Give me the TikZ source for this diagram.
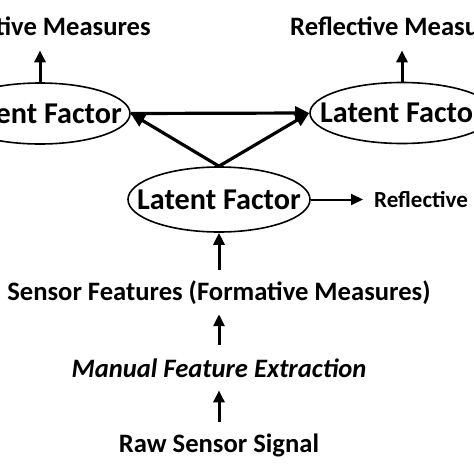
\documentclass[tikz,border=0pt]{standalone}
\usepackage{fontspec}
\setmainfont{Carlito}
\usetikzlibrary{arrows.meta,shapes.geometric}
\tikzset{
  lat/.style={draw,ellipse,line width=1.6pt,inner xsep=-20pt,inner ysep=0pt,font=\fontsize{30.2}{34}\selectfont\bfseries},
  lbl/.style={inner sep=0pt,font=\fontsize{26.6}{30}\selectfont\bfseries},
  small/.style={inner sep=0pt,font=\fontsize{23}{26}\selectfont\bfseries},
  big/.style={line width=3.2pt,-{Triangle[length=14pt,width=13pt]}},
  up/.style={line width=3pt,-{Triangle[length=12pt,width=11pt]}},
  thin/.style={line width=2pt,-{Triangle[length=12pt,width=11pt]}}
}
\begin{document}
\begin{tikzpicture}[x=1pt,y=-1pt]
\useasboundingbox (0,0) rectangle (474,474);
\clip (0,0) rectangle (474,474);
\node[lat,minimum width=180pt,minimum height=61pt] (L) at (40,113.5) {Latent Factor};
\node[lat,minimum width=184pt,minimum height=61pt] (R) at (402,113) {Latent Factor};
\node[lat,minimum width=182pt,minimum height=65pt] (M) at (219,199.5) {Latent Factor};
\node[lbl,anchor=base east] (LT) at (151,35) {Reflective Measures};
\node[lbl,anchor=base west] (RT) at (290,35) {Reflective Measures};
\node[small,anchor=base west] (MR) at (374,207) {Reflective Measures};
\node[lbl,anchor=base] (S) at (219,300) {Sensor Features (Formative Measures)};
\node[lbl,anchor=base,font=\fontsize{26.6}{30}\selectfont\bfseries\itshape] (X) at (219,377) {Manual Feature Extraction};
\node[lbl,anchor=base] (W) at (219,452) {Raw Sensor Signal};
\draw[up,shorten >=15pt] (L.north) -- (L.north |- LT.south);
\draw[up,shorten >=15pt] (R.north) -- (R.north |- RT.south);
\draw[big] (L.east) -- (R.west);
\draw[big] (M.north) -- (L.east);
\draw[big] (M.north) -- (R.west);
\draw[thin,shorten >=11pt] (M.east) -- (M.east -| MR.west);
\draw[up,shorten <=10pt] (S.north -| M.south) -- (M.south);
\draw[up,shorten <=13pt,shorten >=10pt] (X.north -| M.south) -- (S.south -| M.south);
\draw[up,shorten <=11pt,shorten >=13pt] (W.north -| M.south) -- (X.south -| M.south);
\end{tikzpicture}
\end{document}
